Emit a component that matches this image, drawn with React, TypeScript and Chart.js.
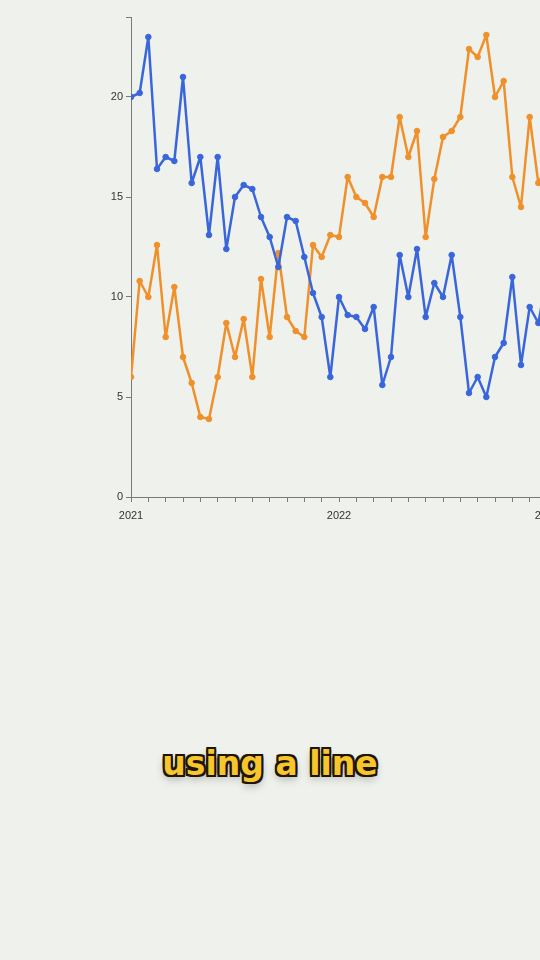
import React, { useEffect, useRef } from "react";
import { Chart, registerables } from "chart.js";

Chart.register(...registerables);

const xIndex: number[] = Array.from({ length: 49 }, (_, i) => i);
const yearLabels: string[] = ["2021", "2022", "2023"];
const yTicks: number[] = [0, 5, 10, 15, 20, 24];

const blueValues: number[] = [
  20.0, 20.2, 23.0, 16.4, 17.0, 16.8, 21.0, 15.7, 17.0, 13.1, 17.0, 12.4,
  15.0, 15.6, 15.4, 14.0, 13.0, 11.5, 14.0, 13.8, 12.0, 10.2, 9.0, 6.0,
  10.0, 9.1, 9.0, 8.4, 9.5, 5.6, 7.0, 12.1, 10.0, 12.4, 9.0, 10.7,
  10.0, 12.1, 9.0, 5.2, 6.0, 5.0, 7.0, 7.7, 11.0, 6.6, 9.5, 8.7, 11.0,
];

const orangeValues: number[] = [
  6.0, 10.8, 10.0, 12.6, 8.0, 10.5, 7.0, 5.7, 4.0, 3.9, 6.0, 8.7,
  7.0, 8.9, 6.0, 10.9, 8.0, 12.2, 9.0, 8.3, 8.0, 12.6, 12.0, 13.1,
  13.0, 16.0, 15.0, 14.7, 14.0, 16.0, 16.0, 19.0, 17.0, 18.3, 13.0, 15.9,
  18.0, 18.3, 19.0, 22.4, 22.0, 23.1, 20.0, 20.8, 16.0, 14.5, 19.0, 15.7, 16.5,
];

const BLUE = "#3a66dc";
const ORANGE = "#f0902a";
const BG = "#eff1ec";
const AXIS = "#7a7a7a";

export default function App() {
  const ref = useRef<HTMLCanvasElement | null>(null);

  useEffect(() => {
    document.body.style.margin = "0";
    document.body.style.background = BG;
    const canvas = ref.current;
    if (!canvas) return;
    const common = {
      borderWidth: 2.5,
      pointRadius: 2.8,
      pointHoverRadius: 2.8,
      pointBorderWidth: 1,
      borderJoinStyle: "round" as const,
      borderCapStyle: "round" as const,
      tension: 0,
    };
    const chart = new Chart(canvas, {
      type: "line",
      data: {
        datasets: [
          {
            label: "blue",
            data: xIndex.map((x, i) => ({ x, y: blueValues[i] })),
            borderColor: BLUE,
            backgroundColor: BLUE,
            ...common,
          },
          {
            label: "orange",
            data: xIndex.map((x, i) => ({ x, y: orangeValues[i] })),
            borderColor: ORANGE,
            backgroundColor: ORANGE,
            ...common,
          },
        ],
      },
      options: {
        animation: false,
        responsive: false,
        maintainAspectRatio: false,
        layout: { padding: { left: 0, top: 17, right: 20, bottom: 0 } },
        plugins: {
          legend: { display: false },
          tooltip: { enabled: false },
        },
        scales: {
          x: {
            type: "linear",
            min: 0,
            max: 48,
            afterFit: (s: any) => {
              s.height = 30;
              s.paddingLeft = 0;
              s.paddingRight = 0;
            },
            ticks: {
              stepSize: 2,
              autoSkip: false,
              maxRotation: 0,
              padding: 7,
              color: "#333",
              font: { family: "Liberation Sans", size: 11 },
              callback: (v: any) => {
                const n = Number(v);
                return n % 24 === 0 ? yearLabels[n / 24] : "";
              },
            },
            grid: {
              display: true,
              drawOnChartArea: false,
              drawTicks: true,
              tickLength: 5,
              color: AXIS,
            },
            border: { display: true, color: AXIS, width: 1 },
          },
          y: {
            type: "linear",
            min: 0,
            max: 24,
            afterFit: (s: any) => {
              s.width = 131;
              s.paddingTop = 0;
              s.paddingBottom = 0;
            },
            afterBuildTicks: (s: any) => {
              s.ticks = yTicks.map((v) => ({ value: v }));
            },
            ticks: {
              padding: 3,
              color: "#333",
              font: { family: "Liberation Sans", size: 11 },
              callback: (v: any) => (Number(v) === 24 ? "" : String(v)),
            },
            grid: {
              display: true,
              drawOnChartArea: false,
              drawTicks: true,
              tickLength: 5,
              color: AXIS,
            },
            border: { display: true, color: AXIS, width: 1 },
          },
        },
      },
    });
    return () => chart.destroy();
  }, []);

  const outline = "#1e1408";
  const shadows = [
    `2px 0 0 ${outline}`,
    `-2px 0 0 ${outline}`,
    `0 2px 0 ${outline}`,
    `0 -2px 0 ${outline}`,
    `2px 2px 0 ${outline}`,
    `-2px -2px 0 ${outline}`,
    `2px -2px 0 ${outline}`,
    `-2px 2px 0 ${outline}`,
    `0 4px 8px rgba(0,0,0,0.35)`,
  ].join(", ");

  return (
    <div
      style={{
        position: "fixed",
        left: 0,
        top: 0,
        width: 540,
        height: 960,
        overflow: "hidden",
        background: BG,
      }}
    >
      <canvas
        ref={ref}
        width={567}
        height={527}
        style={{ position: "absolute", left: 0, top: 0, width: 567, height: 527 }}
      />
      <div
        style={{
          position: "absolute",
          left: 0,
          width: 540,
          top: 744,
          textAlign: "center",
          fontFamily: "'DejaVu Sans', sans-serif",
          fontWeight: 700,
          fontSize: 33,
          color: "#f7c52c",
          textShadow: shadows,
          letterSpacing: 0,
        }}
      >
        using a line
      </div>
    </div>
  );
}
